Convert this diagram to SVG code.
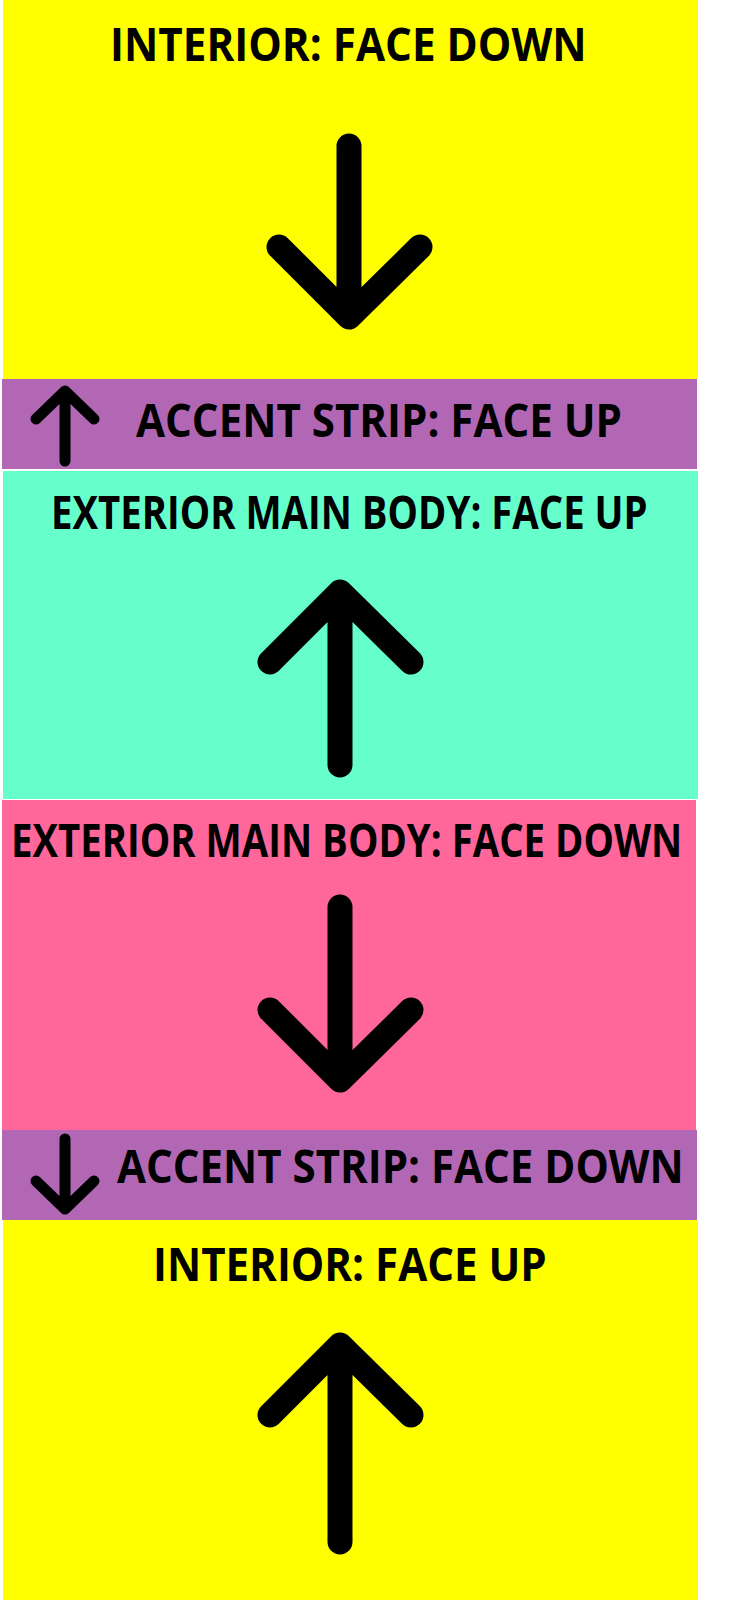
<svg xmlns="http://www.w3.org/2000/svg" width="733" height="1600" viewBox="0 0 733 1600">
<style>
.lbl{font-family:"Open Sans","Liberation Sans",sans-serif;font-weight:bold;font-size:46px;fill:#000}
.arr{fill:none;stroke:#000;stroke-linecap:round;stroke-linejoin:round}
.big{stroke-width:25}
.sm{stroke-width:11}
</style>
<rect width="733" height="1600" fill="#fff"/>
<g id="interior-face-down">
<rect x="3" y="0" width="695" height="379" fill="#FFFF00"/>
<text class="lbl" transform="translate(110 61) scale(0.92 1)" x="0" y="0" textLength="518" lengthAdjust="spacingAndGlyphs">INTERIOR: FACE DOWN</text>
<path class="arr big" d="M349 146V317M279 247L349 317L420 247"/>
</g>
<g id="accent-strip-face-up">
<rect x="2" y="379" width="695" height="90" fill="#B267B5"/>
<text class="lbl" transform="translate(136 437) scale(0.917 1)" x="0" y="0" textLength="530" lengthAdjust="spacingAndGlyphs">ACCENT STRIP: FACE UP</text>
<path class="arr sm" d="M65 461V391M36 419L65 391L94 419"/>
</g>
<g id="exterior-face-up">
<rect x="3" y="471" width="695" height="328" fill="#66FFCC"/>
<text class="lbl" transform="translate(51 529) scale(0.838 1)" x="0" y="0" textLength="712" lengthAdjust="spacingAndGlyphs">EXTERIOR MAIN BODY: FACE UP</text>
<path class="arr big" d="M340 765V592M270 662L340 592L411 662"/>
</g>
<g id="exterior-face-down">
<rect x="2" y="800" width="694" height="330" fill="#FF6699"/>
<text class="lbl" transform="translate(11 857) scale(0.837 1)" x="0" y="0" textLength="802" lengthAdjust="spacingAndGlyphs">EXTERIOR MAIN BODY: FACE DOWN</text>
<path class="arr big" d="M340 907V1080M270 1010L340 1080L411 1010"/>
</g>
<g id="accent-strip-face-down">
<rect x="2" y="1130" width="695" height="90" fill="#B267B5"/>
<text class="lbl" transform="translate(117 1183) scale(0.914 1)" x="0" y="0" textLength="620" lengthAdjust="spacingAndGlyphs">ACCENT STRIP: FACE DOWN</text>
<path class="arr sm" d="M65 1139V1209M36 1181L65 1209L94 1181"/>
</g>
<g id="interior-face-up">
<rect x="3" y="1220" width="695" height="380" fill="#FFFF00"/>
<text class="lbl" transform="translate(153 1281) scale(0.92 1)" x="0" y="0" textLength="428" lengthAdjust="spacingAndGlyphs">INTERIOR: FACE UP</text>
<path class="arr big" d="M340 1542V1345M270 1415L340 1345L411 1415"/>
</g>
<g id="connectors"></g>
</svg>
